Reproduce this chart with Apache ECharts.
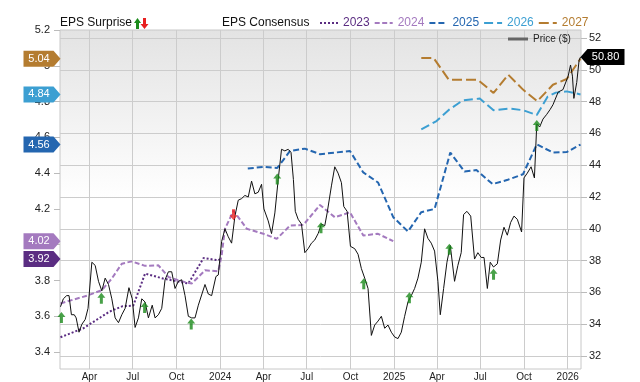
<!DOCTYPE html>
<html><head><meta charset="utf-8">
<script src="https://cdn.jsdelivr.net/npm/echarts@6/dist/echarts.min.js"></script>
<style>html,body{margin:0;padding:0;background:#fff}#c{width:640px;height:382px}</style>
</head><body><div id="c"></div>
<script>
// ---------- data ----------
const xMinDate = '2023-01-29';
const xMaxDate = '2026-01-29';
const xTickDates = ['2023-04-01','2023-07-01','2023-10-01','2024-01-01','2024-04-01','2024-07-01','2024-10-01','2025-01-01','2025-04-01','2025-07-01','2025-10-01','2026-01-01'];
const xTickLabels = ['Apr','Jul','Oct','2024','Apr','Jul','Oct','2025','Apr','Jul','Oct','2026'];
const epsTicks = [3.4,3.6,3.8,4.0,4.2,4.4,4.6,4.8,5.0,5.2];
const priceTicks = [32,34,36,38,40,42,44,46,48,50,52];

const price = [
['2023-01-30',35.1],['2023-02-05',35.6],['2023-02-12',35.8],['2023-02-17',35.8],['2023-02-22',34.6],['2023-02-28',34.6],
['2023-03-04',34.4],['2023-03-10',33.5],['2023-03-16',34.0],['2023-03-23',34.3],['2023-03-29',35.0],['2023-04-06',37.9],
['2023-04-13',37.7],['2023-04-20',36.7],['2023-04-27',36.1],['2023-05-04',36.9],['2023-05-11',36.5],['2023-05-18',35.6],
['2023-05-25',34.4],['2023-06-01',34.1],['2023-06-08',34.6],['2023-06-15',35.0],['2023-06-23',36.3],['2023-06-30',35.6],
['2023-07-06',33.8],['2023-07-13',34.4],['2023-07-20',35.6],['2023-07-27',35.4],['2023-08-03',34.4],['2023-08-11',35.2],
['2023-08-17',34.4],['2023-08-24',34.6],['2023-08-31',35.0],['2023-09-07',36.8],['2023-09-14',37.3],['2023-09-21',37.3],
['2023-09-28',36.25],['2023-10-05',36.7],['2023-10-12',36.8],['2023-10-19',35.8],['2023-10-26',34.5],['2023-11-02',34.4],
['2023-11-09',34.4],['2023-11-16',35.2],['2023-11-30',36.5],['2023-12-07',35.9],['2023-12-14',35.8],['2023-12-23',37.0],
['2023-12-28',37.1],['2024-01-04',39.2],['2024-01-11',40.0],['2024-01-18',39.5],['2024-01-25',39.1],['2024-02-01',40.8],
['2024-02-08',41.8],['2024-02-15',41.9],['2024-02-22',42.1],['2024-02-29',42.0],['2024-03-07',43.0],['2024-03-14',42.2],
['2024-03-21',42.3],['2024-03-28',42.8],['2024-04-02',41.25],['2024-04-11',40.5],['2024-04-18',39.7],['2024-04-25',41.0],
['2024-05-02',43.1],['2024-05-09',45.0],['2024-05-16',44.9],['2024-05-23',45.0],['2024-05-29',44.8],['2024-06-03',43.1],
['2024-06-07',41.1],['2024-06-13',40.6],['2024-06-20',40.3],['2024-06-27',38.5],['2024-07-04',38.75],['2024-07-11',39.1],
['2024-07-18',39.3],['2024-07-25',39.7],['2024-08-01',40.3],['2024-08-08',40.2],['2024-08-13',41.0],['2024-08-22',42.7],
['2024-08-29',43.9],['2024-09-05',43.5],['2024-09-12',42.9],['2024-09-17',41.4],['2024-09-24',41.1],['2024-10-01',38.9],
['2024-10-10',38.75],['2024-10-17',38.4],['2024-10-24',37.5],['2024-10-31',36.9],['2024-11-07',36.25],['2024-11-14',33.3],
['2024-11-21',33.95],['2024-11-28',34.2],['2024-12-05',34.5],['2024-12-12',33.75],['2024-12-19',33.95],['2024-12-26',33.5],
['2025-01-02',33.2],['2025-01-09',33.1],['2025-01-16',33.5],['2025-01-23',34.5],['2025-01-30',35.4],['2025-02-06',35.8],
['2025-02-13',36.25],['2025-02-20',36.9],['2025-02-27',37.9],['2025-03-06',40.0],['2025-03-13',39.4],['2025-03-20',39.1],
['2025-03-27',38.6],['2025-04-03',36.7],['2025-04-08',34.6],['2025-04-15',36.25],['2025-04-22',37.9],['2025-04-29',38.95],
['2025-05-08',36.7],['2025-05-15',37.7],['2025-05-22',38.5],['2025-05-27',40.9],['2025-06-03',41.1],['2025-06-11',40.8],
['2025-06-19',38.1],['2025-06-26',38.5],['2025-07-03',38.2],['2025-07-09',38.2],['2025-07-16',36.25],['2025-07-22',37.9],
['2025-07-29',37.6],['2025-08-06',37.8],['2025-08-13',39.3],['2025-08-20',40.1],['2025-08-27',39.6],['2025-09-03',40.4],
['2025-09-10',40.8],['2025-09-17',40.6],['2025-09-26',39.8],['2025-10-01',43.2],['2025-10-08',43.5],['2025-10-16',43.9],
['2025-10-23',43.2],['2025-10-28',46.6],['2025-11-03',46.4],['2025-11-10',46.9],['2025-11-18',47.2],['2025-11-25',47.5],
['2025-12-01',47.8],['2025-12-12',48.6],['2025-12-22',48.75],['2026-01-02',49.6],['2026-01-07',50.3],['2026-01-11',49.6],
['2026-01-14',48.2],['2026-01-20',49.2],['2026-01-25',50.6],['2026-01-28',50.8]
];

const eps2023 = [
['2023-01-30',3.483],['2023-03-19',3.533],['2023-05-13',3.626],['2023-06-10',3.657],['2023-07-02',3.659],['2023-07-27',3.839],
['2023-09-03',3.811],['2023-10-01',3.796],['2023-10-26',3.783],['2023-11-27',3.926],['2023-12-28',3.913],['2024-01-01',3.92]
];
const eps2024 = [
['2023-01-30',3.672],['2023-03-30',3.718],['2023-04-27',3.746],['2023-05-18',3.811],['2023-06-08',3.894],['2023-06-29',3.907],
['2023-07-27',3.882],['2023-08-24',3.885],['2023-09-14',3.82],['2023-10-12',3.796],['2023-11-02',3.783],['2023-11-30',3.857],
['2023-12-28',3.852],['2024-01-04',3.94],['2024-01-11',4.089],['2024-01-29',4.19],['2024-02-26',4.089],['2024-04-01',4.061],
['2024-04-29',4.033],['2024-05-27',4.107],['2024-06-24',4.111],['2024-07-29',4.222],['2024-08-29',4.154],['2024-09-30',4.181],
['2024-10-28',4.052],['2024-11-28',4.061],['2024-12-30',4.02]
];
const eps2025 = [
['2024-02-28',4.426],['2024-04-01',4.435],['2024-04-30',4.429],['2024-05-27',4.524],['2024-06-27',4.537],['2024-07-29',4.506],
['2024-09-30',4.524],['2024-10-28',4.404],['2024-11-28',4.348],['2024-12-30',4.154],['2025-01-30',4.074],['2025-02-27',4.182],
['2025-03-27',4.2],['2025-04-29',4.515],['2025-05-29',4.409],['2025-06-23',4.417],['2025-07-27',4.339],['2025-08-28',4.363],
['2025-09-29',4.394],['2025-10-28',4.561],['2025-12-01',4.515],['2025-12-30',4.518],['2026-01-28',4.56]
];
const eps2026 = [
['2025-02-27',4.644],['2025-03-31',4.691],['2025-04-27',4.756],['2025-05-25',4.806],['2025-06-30',4.817],['2025-07-29',4.752],
['2025-08-30',4.761],['2025-09-29',4.752],['2025-10-28',4.725],['2025-11-20',4.828],['2025-12-07',4.85],['2025-12-30',4.857],
['2026-01-28',4.84]
];
const eps2027 = [
['2025-02-27',5.043],['2025-03-25',5.043],['2025-04-26',4.922],['2025-06-26',4.922],['2025-07-29',4.848],['2025-08-29',4.95],
['2025-09-29',4.867],['2025-10-29',4.802],['2025-12-01',4.894],['2025-12-30',4.926],['2026-01-28',5.04]
];

const surpriseBeat = [
['2023-02-01',34.42],['2023-04-26',35.63],['2023-07-26',35.06],['2023-11-01',34.02],['2024-04-30',43.13],
['2024-07-31',40.06],['2024-10-29',36.55],['2025-02-02',35.67],['2025-04-27',38.71],['2025-07-29',37.14],['2025-10-28',46.5]
];
const surpriseMiss = [['2024-01-29',40.89]];

const consensusNames = ['2023','2024','2025','2026','2027'];
const consensusData = [eps2023, eps2024, eps2025, eps2026, eps2027];

// ---------- styles ----------
const consensusColors = ['#5b2d82','#a47abf','#2466b0','#3c9fd2','#b47c30'];
const consensusDash = [[2,2],[5,2.5],[6,3],[9,4],[10,4]];
const FONT = '"Liberation Sans", Arial, sans-serif';

const ts = d => Date.parse(d + 'T00:00:00Z');
const conv = arr => arr.map(p => [ts(p[0]), p[1]]);
const xMin = ts(xMinDate), xMax = ts(xMaxDate);
const xTickTs = xTickDates.map(ts);

const tagShapeRight = 'path://M0,0 L30,0 L37,8 L30,16 L0,16 Z';
const tagShapeLeft = 'path://M7,0 L44,0 L44,16 L7,16 L0,8 Z';
const upArrow = 'path://M4,0 L8,5 L5.5,5 L5.5,11 L2.5,11 L2.5,5 L0,5 Z';
const downArrow = 'path://M2.5,0 L5.5,0 L5.5,6 L8,6 L4,11 L0,6 L2.5,6 Z';

const series = [];
consensusNames.forEach((n, i) => {
  const d = conv(consensusData[i]);
  const last = d[d.length - 1];
  series.push({
    name: n, type: 'line', yAxisIndex: 0, data: d, symbol: 'none', clip: false, z: 2,
    lineStyle: { color: consensusColors[i], width: 2, type: consensusDash[i] },
    itemStyle: { color: consensusColors[i] },
    markPoint: {
      symbol: tagShapeRight, symbolSize: [37, 16], symbolOffset: [-18, 0],
      itemStyle: { color: consensusColors[i] },
      label: { show: true, color: '#fff', fontSize: 11, fontFamily: FONT, offset: [-3, 0],
               formatter: p => p.value.toFixed(2) },
      data: [{ coord: [xMin, last[1]], value: last[1] }]
    }
  });
});
const pd = conv(price);
const lastP = pd[pd.length - 1];
series.push({
  name: 'Price ($)', type: 'line', yAxisIndex: 1, data: pd, symbol: 'none', clip: false, z: 4,
  lineStyle: { color: '#111', width: 1 }, itemStyle: { color: '#111' },
  markPoint: {
    symbol: tagShapeLeft, symbolSize: [44, 16], symbolOffset: [22, 0],
    itemStyle: { color: '#000' },
    label: { show: true, color: '#fff', fontSize: 11, fontFamily: FONT, offset: [3, 0],
             formatter: p => p.value.toFixed(2) },
    data: [{ coord: [lastP[0], lastP[1]], value: lastP[1] }]
  }
});
series.push({
  name: 'Beat', type: 'scatter', yAxisIndex: 1, data: conv(surpriseBeat), symbol: upArrow,
  symbolSize: [8, 11], itemStyle: { color: '#1a8a1a' }, z: 5
});
series.push({
  name: 'Miss', type: 'scatter', yAxisIndex: 1, data: conv(surpriseMiss), symbol: downArrow,
  symbolSize: [8, 11], itemStyle: { color: '#e82020' }, z: 5
});

const chart = echarts.init(document.getElementById('c'), null, { renderer: 'canvas' });
chart.setOption({
  animation: false,
  textStyle: { fontFamily: FONT },
  grid: {
    left: 60, right: 59, top: 30, bottom: 11, show: true, borderColor: '#c8c8c8', borderWidth: 1,
    backgroundColor: { type: 'linear', x: 0, y: 0, x2: 0, y2: 1,
      colorStops: [{ offset: 0, color: '#e3e3e3' }, { offset: 0.5, color: '#ffffff' }, { offset: 1, color: '#ffffff' }] }
  },
  xAxis: {
    type: 'value', min: xMin, max: xMax,
    axisLine: { show: false }, axisTick: { show: false, customValues: xTickTs },
    splitLine: { show: true, lineStyle: { color: '#cccccc', width: 1 } },
    axisLabel: { customValues: xTickTs, fontSize: 10, color: '#222', margin: 3, fontFamily: FONT,
      formatter: v => { const i = xTickTs.indexOf(v); return i >= 0 ? xTickLabels[i] : ''; } }
  },
  yAxis: [
    { type: 'value', position: 'left', min: 5.2 - 341 / 180, max: 5.2,
      axisLine: { show: false },
      axisTick: { show: true, length: 6, customValues: epsTicks, lineStyle: { color: '#bbb' } },
      splitLine: { show: false },
      axisLabel: { customValues: epsTicks, fontSize: 11, color: '#222', margin: 10, fontFamily: FONT,
        formatter: v => String(Math.round(v * 10) / 10) } },
    { type: 'value', position: 'right', min: 32 - 13 / 16, max: 52.5,
      axisLine: { show: false },
      axisTick: { show: true, length: 6, customValues: priceTicks, lineStyle: { color: '#bbb' } },
      splitLine: { show: true, lineStyle: { color: '#cccccc', width: 1 } },
      axisLabel: { customValues: priceTicks, fontSize: 11, color: '#222', margin: 8, fontFamily: FONT } }
  ],
  legend: [
    { data: consensusNames.map((n, i) => ({ name: n, textStyle: { color: consensusColors[i] } })),
      left: 319, top: 17, itemWidth: 18, itemHeight: 14, itemGap: 4, padding: 0, selectedMode: false,
      itemStyle: { color: 'rgba(0,0,0,0)', borderWidth: 0, opacity: 0 },
      textStyle: { fontSize: 12, fontFamily: FONT } },
    { data: ['Price ($)'], left: 508, top: 34, icon: 'rect', itemWidth: 20, itemHeight: 3, padding: 0,
      selectedMode: false, itemStyle: { color: '#666' },
      textStyle: { fontSize: 10, color: '#222', fontFamily: FONT } }
  ],
  graphic: [
    { type: 'text', left: 60, top: 17, style: { text: 'EPS Surprise', fontSize: 12, fontFamily: FONT, fill: '#111' } },
    { type: 'polygon', shape: { points: [[137.5,18],[141,23],[139,23],[139,29],[136,29],[136,23],[134,23]] }, style: { fill: '#1a8a1a' } },
    { type: 'polygon', shape: { points: [[143,18],[146,18],[146,24],[148.5,24],[144.5,29],[140.5,24],[143,24]] }, style: { fill: '#e82020' } },
    { type: 'text', left: 222, top: 17, style: { text: 'EPS Consensus', fontSize: 12, fontFamily: FONT, fill: '#111' } }
  ],
  series: series
});
</script></body></html>
